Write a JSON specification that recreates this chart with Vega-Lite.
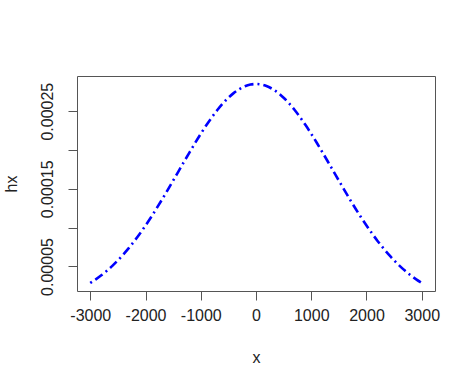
{
  "$schema": "https://vega.github.io/schema/vega-lite/v6.json",
  "width": 358,
  "height": 215,
  "autosize": "none",
  "padding": {"left": 77, "top": 76, "right": 39, "bottom": 95},
  "background": "white",
  "config": {
    "view": {"stroke": "#555555", "strokeWidth": 1},
    "axis": {
      "grid": false,
      "domain": false,
      "tickColor": "#555555",
      "tickSize": 9,
      "labelFont": "Liberation Sans",
      "labelFontSize": 16,
      "labelColor": "#222222",
      "titleFont": "Liberation Sans",
      "titleFontSize": 16,
      "titleFontWeight": "normal",
      "titleColor": "#222222"
    }
  },
  "data": {
    "values": [
      {"x": -3000, "hx": 0.00002869},
      {"x": -2900, "hx": 0.00003335},
      {"x": -2800, "hx": 0.00003857},
      {"x": -2700, "hx": 0.00004438},
      {"x": -2600, "hx": 0.00005081},
      {"x": -2500, "hx": 0.00005786},
      {"x": -2400, "hx": 0.00006556},
      {"x": -2300, "hx": 0.00007391},
      {"x": -2200, "hx": 0.00008290},
      {"x": -2100, "hx": 0.00009251},
      {"x": -2000, "hx": 0.00010271},
      {"x": -1900, "hx": 0.00011346},
      {"x": -1800, "hx": 0.00012469},
      {"x": -1700, "hx": 0.00013634},
      {"x": -1600, "hx": 0.00014831},
      {"x": -1500, "hx": 0.00016051},
      {"x": -1400, "hx": 0.00017284},
      {"x": -1300, "hx": 0.00018516},
      {"x": -1200, "hx": 0.00019735},
      {"x": -1100, "hx": 0.00020928},
      {"x": -1000, "hx": 0.00022080},
      {"x": -900, "hx": 0.00023176},
      {"x": -800, "hx": 0.00024204},
      {"x": -700, "hx": 0.00025148},
      {"x": -600, "hx": 0.00025996},
      {"x": -500, "hx": 0.00026735},
      {"x": -400, "hx": 0.00027356},
      {"x": -300, "hx": 0.00027849},
      {"x": -200, "hx": 0.00028207},
      {"x": -100, "hx": 0.00028423},
      {"x": 0, "hx": 0.00028496},
      {"x": 100, "hx": 0.00028423},
      {"x": 200, "hx": 0.00028207},
      {"x": 300, "hx": 0.00027849},
      {"x": 400, "hx": 0.00027356},
      {"x": 500, "hx": 0.00026735},
      {"x": 600, "hx": 0.00025996},
      {"x": 700, "hx": 0.00025148},
      {"x": 800, "hx": 0.00024204},
      {"x": 900, "hx": 0.00023176},
      {"x": 1000, "hx": 0.00022080},
      {"x": 1100, "hx": 0.00020928},
      {"x": 1200, "hx": 0.00019735},
      {"x": 1300, "hx": 0.00018516},
      {"x": 1400, "hx": 0.00017284},
      {"x": 1500, "hx": 0.00016051},
      {"x": 1600, "hx": 0.00014831},
      {"x": 1700, "hx": 0.00013634},
      {"x": 1800, "hx": 0.00012469},
      {"x": 1900, "hx": 0.00011346},
      {"x": 2000, "hx": 0.00010271},
      {"x": 2100, "hx": 0.00009251},
      {"x": 2200, "hx": 0.00008290},
      {"x": 2300, "hx": 0.00007391},
      {"x": 2400, "hx": 0.00006556},
      {"x": 2500, "hx": 0.00005786},
      {"x": 2600, "hx": 0.00005081},
      {"x": 2700, "hx": 0.00004438},
      {"x": 2800, "hx": 0.00003857},
      {"x": 2900, "hx": 0.00003335},
      {"x": 3000, "hx": 0.00002869}
    ]
  },
  "mark": {
    "type": "line",
    "color": "#0000ff",
    "strokeWidth": 2.6,
    "strokeDash": [2, 4, 9, 4],
    "interpolate": "monotone",
    "clip": true
  },
  "encoding": {
    "x": {
      "field": "x",
      "type": "quantitative",
      "scale": {"domain": [-3240, 3240], "nice": false, "zero": false},
      "axis": {
        "title": "x",
        "values": [-3000, -2000, -1000, 0, 1000, 2000, 3000],
        "labelExpr": "'' + datum.value",
        "labelPadding": 7,
        "titlePadding": 26
      }
    },
    "y": {
      "field": "hx",
      "type": "quantitative",
      "scale": {"domain": [0.0000184, 0.0002953], "nice": false, "zero": false},
      "axis": {
        "title": "hx",
        "values": [0.00005, 0.0001, 0.00015, 0.0002, 0.00025],
        "labelExpr": "round(datum.value*100000) % 10 == 5 ? format(datum.value, '.5f') : ''",
        "labelAngle": -90,
        "labelAlign": "center",
        "labelBaseline": "bottom",
        "labelPadding": 13,
        "titlePadding": 20
      }
    }
  }
}
